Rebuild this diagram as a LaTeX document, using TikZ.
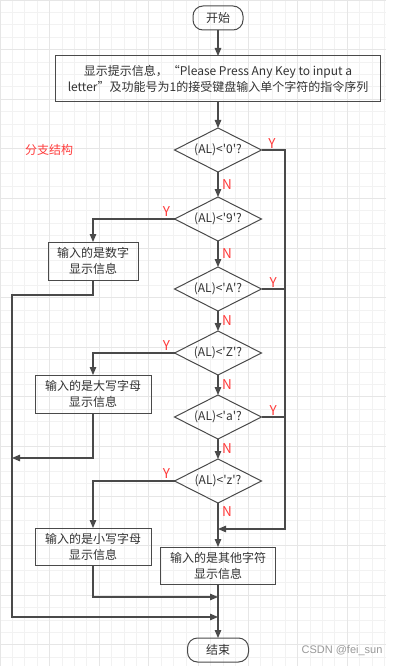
\documentclass[tikz,border=0pt]{standalone}
\usepackage{fontspec}
\setmainfont{Noto Sans CJK SC}
\newfontfamily\markfont{Liberation Sans}
\usetikzlibrary{positioning,shapes.geometric,arrows.meta}

\definecolor{ink}{HTML}{4A4A4A}
\definecolor{txt}{HTML}{333333}
\definecolor{ynred}{HTML}{FF3B3B}
\definecolor{gridminor}{HTML}{F2F2F2}
\definecolor{gridmajor}{HTML}{E6E6E6}
\newcommand{\sqt}{\textquotesingle}

\tikzset{
  every node/.style={font=\fontsize{12}{16}\selectfont, text=txt, outer sep=0pt},
  terminal/.style={draw=ink, line width=1pt, rounded corners=10pt, minimum height=24pt, inner sep=2pt},
  process/.style={draw=ink, line width=1pt, align=center, inner sep=2pt},
  decision/.style={draw=ink, line width=1pt, diamond, aspect=2, inner sep=0pt, minimum width=87pt, minimum height=44pt},
  flow/.style={draw=ink, line width=1.1pt, -{Triangle[length=8pt,width=6.5pt]}},
  wire/.style={draw=ink, line width=1.1pt},
  yn/.style={text=ynred, inner sep=1pt, font=\fontsize{13.5}{16}\selectfont},
}

\begin{document}
\begin{tikzpicture}[x=1pt,y=1pt]
  \useasboundingbox (0,0) rectangle (402,-666);
  \fill[white] (0,0) rectangle (402,-666);
  \draw[gridminor, line width=0.8pt, step=12.4pt] (0,-666) grid (386,0);
  \draw[gridmajor, line width=0.8pt, step=49.6pt] (0,-666) grid (386,0);

  % main column
  \node[terminal, minimum width=50pt] (start) at (218,-18) {开始};
  \node[process, below=26pt of start, minimum width=325pt, minimum height=46pt] (show)
    {显示提示信息，“Please Press Any Key to input a\\letter”及功能号为1的接受键盘输入单个字符的指令序列};
  \node[decision, below=26pt of show] (d1) {(AL)<\sqt0\sqt?};
  \node[decision, below=25pt of d1] (d2) {(AL)<\sqt9\sqt?};
  \node[decision, below=26pt of d2] (d3) {(AL)<\sqt A\sqt?};
  \node[decision, below=20pt of d3] (d4) {(AL)<\sqt Z\sqt?};
  \node[decision, below=20pt of d4] (d5) {(AL)<\sqt a\sqt?};
  \node[decision, below=20pt of d5] (d6) {(AL)<\sqt z\sqt?};
  \node[process, below=44pt of d6, minimum width=115pt, minimum height=37pt] (other) {输入的是其他字符\\显示信息};
  \node[terminal, below=54pt of other, minimum width=61pt] (stop) {结束};

  % side boxes
  \node[process, minimum width=90pt, minimum height=38pt] (digit) at (93,-261) {输入的是数字\\显示信息};
  \node[process, minimum width=116pt, minimum height=38pt] (upper) at (93,-394) {输入的是大写字母\\显示信息};
  \node[process, minimum width=116pt, minimum height=37pt] (lower) at (93,-546.5) {输入的是小写字母\\显示信息};

  \node[text=ynred] (title) at (49,-150) {分支结构};
  \node[text=gray!80, font=\markfont\fontsize{11}{13}\selectfont] (watermark) at (342,-651) {CSDN @fei\_sun};

  \coordinate (right rail) at (285,-529);
  \coordinate (left rail) at (12,-617);

  % N branches
  \draw[flow] (start) -- (show);
  \draw[flow] (show) -- (d1);
  \draw[flow] (d1) -- node[yn, right=3pt] {N} (d2);
  \draw[flow] (d2) -- node[yn, right=3pt] {N} (d3);
  \draw[flow] (d3) -- node[yn, right=3pt] {N} (d4);
  \draw[flow] (d4) -- node[yn, right=3pt] {N} (d5);
  \draw[flow] (d5) -- node[yn, right=3pt] {N} (d6);
  \draw[flow] (d6) -- node[yn, right=3pt, pos=0.2] {N} (other);
  \draw[flow] (other) -- (stop);

  % Y branches
  \draw[flow] (d1.east) -| node[yn, pos=0.22, above=1pt] {Y} (right rail) -- (right rail -| d6.south);
  \draw[wire] (d3.east) -- node[yn, above=1pt] {Y} (d3.east -| right rail);
  \draw[wire] (d5.east) -- node[yn, above=1pt] {Y} (d5.east -| right rail);
  \draw[flow] (d2.west) -| node[yn, pos=0.05, above=2pt] {Y} (digit.north);
  \draw[flow] (d4.west) -| node[yn, pos=0.05, above=2pt] {Y} (upper.north);
  \draw[flow] (d6.west) -| node[yn, pos=0.05, above=2pt] {Y} (lower.north);

  % back to the end
  \draw[flow] (digit.south) -- ++(0,-15) -| (left rail) -- (left rail -| stop.north);
  \draw[flow] (upper.south) -- ++(0,-45) coordinate (upper turn) -- (upper turn -| left rail);
  \draw[flow] (lower.south) -- ++(0,-32) coordinate (lower turn) -- (lower turn -| stop.north);
\end{tikzpicture}
\end{document}
